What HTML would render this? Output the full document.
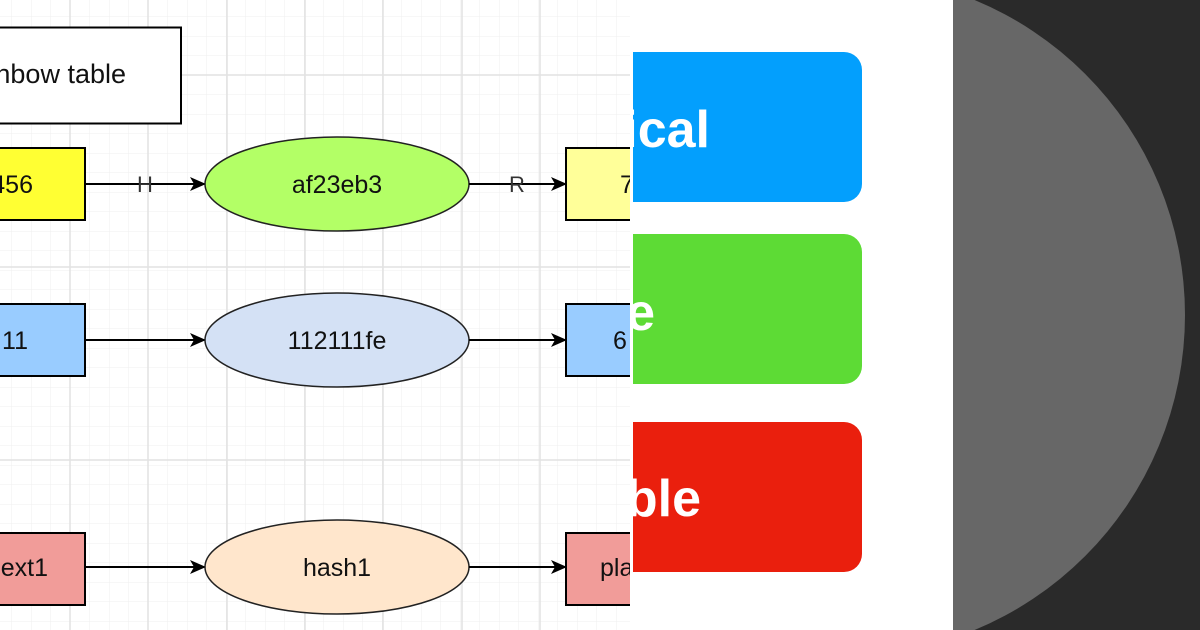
<!DOCTYPE html>
<html><head><meta charset="utf-8"><style>
html,body{margin:0;padding:0;width:1200px;height:630px;overflow:hidden;background:#fff}
svg{display:block}
</style></head><body>
<svg width="1200" height="630" viewBox="0 0 1200 630" xmlns="http://www.w3.org/2000/svg" font-family="Liberation Sans, Arial, sans-serif">
<defs>
<pattern id="minor" x="11.5" y="16.5" width="19.5" height="19.5" patternUnits="userSpaceOnUse">
<path d="M0 0H19.5M0 0V19.5" stroke="#efefef" stroke-width="1" fill="none"/>
</pattern>
<marker id="ar" markerWidth="16" markerHeight="16" refX="15" refY="8" orient="auto" markerUnits="userSpaceOnUse" viewBox="0 0 16 16">
<path d="M0 1L16 8L0 15L4 8Z" fill="#000"/>
</marker>
<clipPath id="lc"><rect x="0" y="0" width="630" height="630"/></clipPath>
<clipPath id="mc"><rect x="633" y="0" width="320" height="630"/></clipPath>
<clipPath id="rc"><rect x="953" y="0" width="247" height="630"/></clipPath>
</defs>
<g clip-path="url(#lc)">
<rect x="0" y="0" width="630" height="630" fill="#fff"/>
<rect x="0" y="0" width="630" height="630" fill="url(#minor)"/>
<g stroke="#e2e2e2" stroke-width="1.5">
<line x1="70" y1="0" x2="70" y2="630"/>
<line x1="148" y1="0" x2="148" y2="630"/>
<line x1="227" y1="0" x2="227" y2="630"/>
<line x1="305" y1="0" x2="305" y2="630"/>
<line x1="383" y1="0" x2="383" y2="630"/>
<line x1="462" y1="0" x2="462" y2="630"/>
<line x1="540" y1="0" x2="540" y2="630"/>
<line x1="0" y1="75" x2="630" y2="75"/>
<line x1="0" y1="267" x2="630" y2="267"/>
<line x1="0" y1="460" x2="630" y2="460"/>
</g>

<rect x="-20" y="27.5" width="201" height="96" fill="#fff" stroke="#000" stroke-width="2"/>
<text x="126" y="83" font-size="27" text-anchor="end" fill="#111">rainbow table</text>

<!-- row 1 -->
<rect x="-20" y="148" width="105" height="72" fill="#ffff33" stroke="#000" stroke-width="2"/>
<text x="33" y="193" font-size="25" text-anchor="end" fill="#111">456</text>
<line x1="85" y1="184" x2="205" y2="184" stroke="#000" stroke-width="2" marker-end="url(#ar)"/>
<text x="145" y="192" font-size="22" text-anchor="middle" fill="#333">H</text>
<ellipse cx="337" cy="184" rx="132" ry="47" fill="#b3ff66" stroke="#222" stroke-width="1.5"/>
<text x="337" y="193" font-size="25" text-anchor="middle" fill="#111">af23eb3</text>
<line x1="469" y1="184" x2="566" y2="184" stroke="#000" stroke-width="2" marker-end="url(#ar)"/>
<text x="517" y="192" font-size="22" text-anchor="middle" fill="#333">R</text>
<rect x="566" y="148" width="100" height="72" fill="#ffff99" stroke="#000" stroke-width="2"/>
<text x="620" y="193" font-size="25" fill="#111">7</text>

<!-- row 2 -->
<rect x="-20" y="304" width="105" height="72" fill="#99ccff" stroke="#000" stroke-width="2"/>
<text x="28" y="349" font-size="25" text-anchor="end" fill="#111">11</text>
<line x1="85" y1="340" x2="205" y2="340" stroke="#000" stroke-width="2" marker-end="url(#ar)"/>
<ellipse cx="337" cy="340" rx="132" ry="47" fill="#d4e1f5" stroke="#222" stroke-width="1.5"/>
<text x="337" y="349" font-size="25" text-anchor="middle" fill="#111">112111fe</text>
<line x1="469" y1="340" x2="566" y2="340" stroke="#000" stroke-width="2" marker-end="url(#ar)"/>
<rect x="566" y="304" width="100" height="72" fill="#99ccff" stroke="#000" stroke-width="2"/>
<text x="613" y="349" font-size="25" fill="#111">6</text>

<!-- row 3 -->
<rect x="-20" y="533" width="105" height="72" fill="#f19c99" stroke="#000" stroke-width="2"/>
<text x="48" y="576" font-size="25" text-anchor="end" fill="#111">ext1</text>
<line x1="85" y1="567" x2="205" y2="567" stroke="#000" stroke-width="2" marker-end="url(#ar)"/>
<ellipse cx="337" cy="567" rx="132" ry="47" fill="#ffe6cc" stroke="#222" stroke-width="1.5"/>
<text x="337" y="576" font-size="25" text-anchor="middle" fill="#111">hash1</text>
<line x1="469" y1="567" x2="566" y2="567" stroke="#000" stroke-width="2" marker-end="url(#ar)"/>
<rect x="566" y="533" width="100" height="72" fill="#f19c99" stroke="#000" stroke-width="2"/>
<text x="600" y="576" font-size="25" fill="#111">pla</text>
</g>

<!-- middle panel -->
<rect x="630" y="0" width="323" height="630" fill="#fff"/>
<g clip-path="url(#mc)">
<rect x="560" y="52" width="302" height="150" rx="18" fill="#039ffd"/>
<rect x="560" y="234" width="302" height="150" rx="18" fill="#5ddb35"/>
<rect x="560" y="422" width="302" height="150" rx="18" fill="#ea1f0d"/>
<g font-weight="bold" font-size="52" fill="#fff">
<text x="710" y="147" text-anchor="end">ical</text>
<text x="655" y="330" text-anchor="end">e</text>
<text x="701" y="516" text-anchor="end">ble</text>
</g>
</g>

<!-- right panel -->
<rect x="953" y="0" width="247" height="630" fill="#2a2a2a"/>
<g clip-path="url(#rc)">
<circle cx="844" cy="315" r="341" fill="#676767"/>
</g>
</svg>
</body></html>
